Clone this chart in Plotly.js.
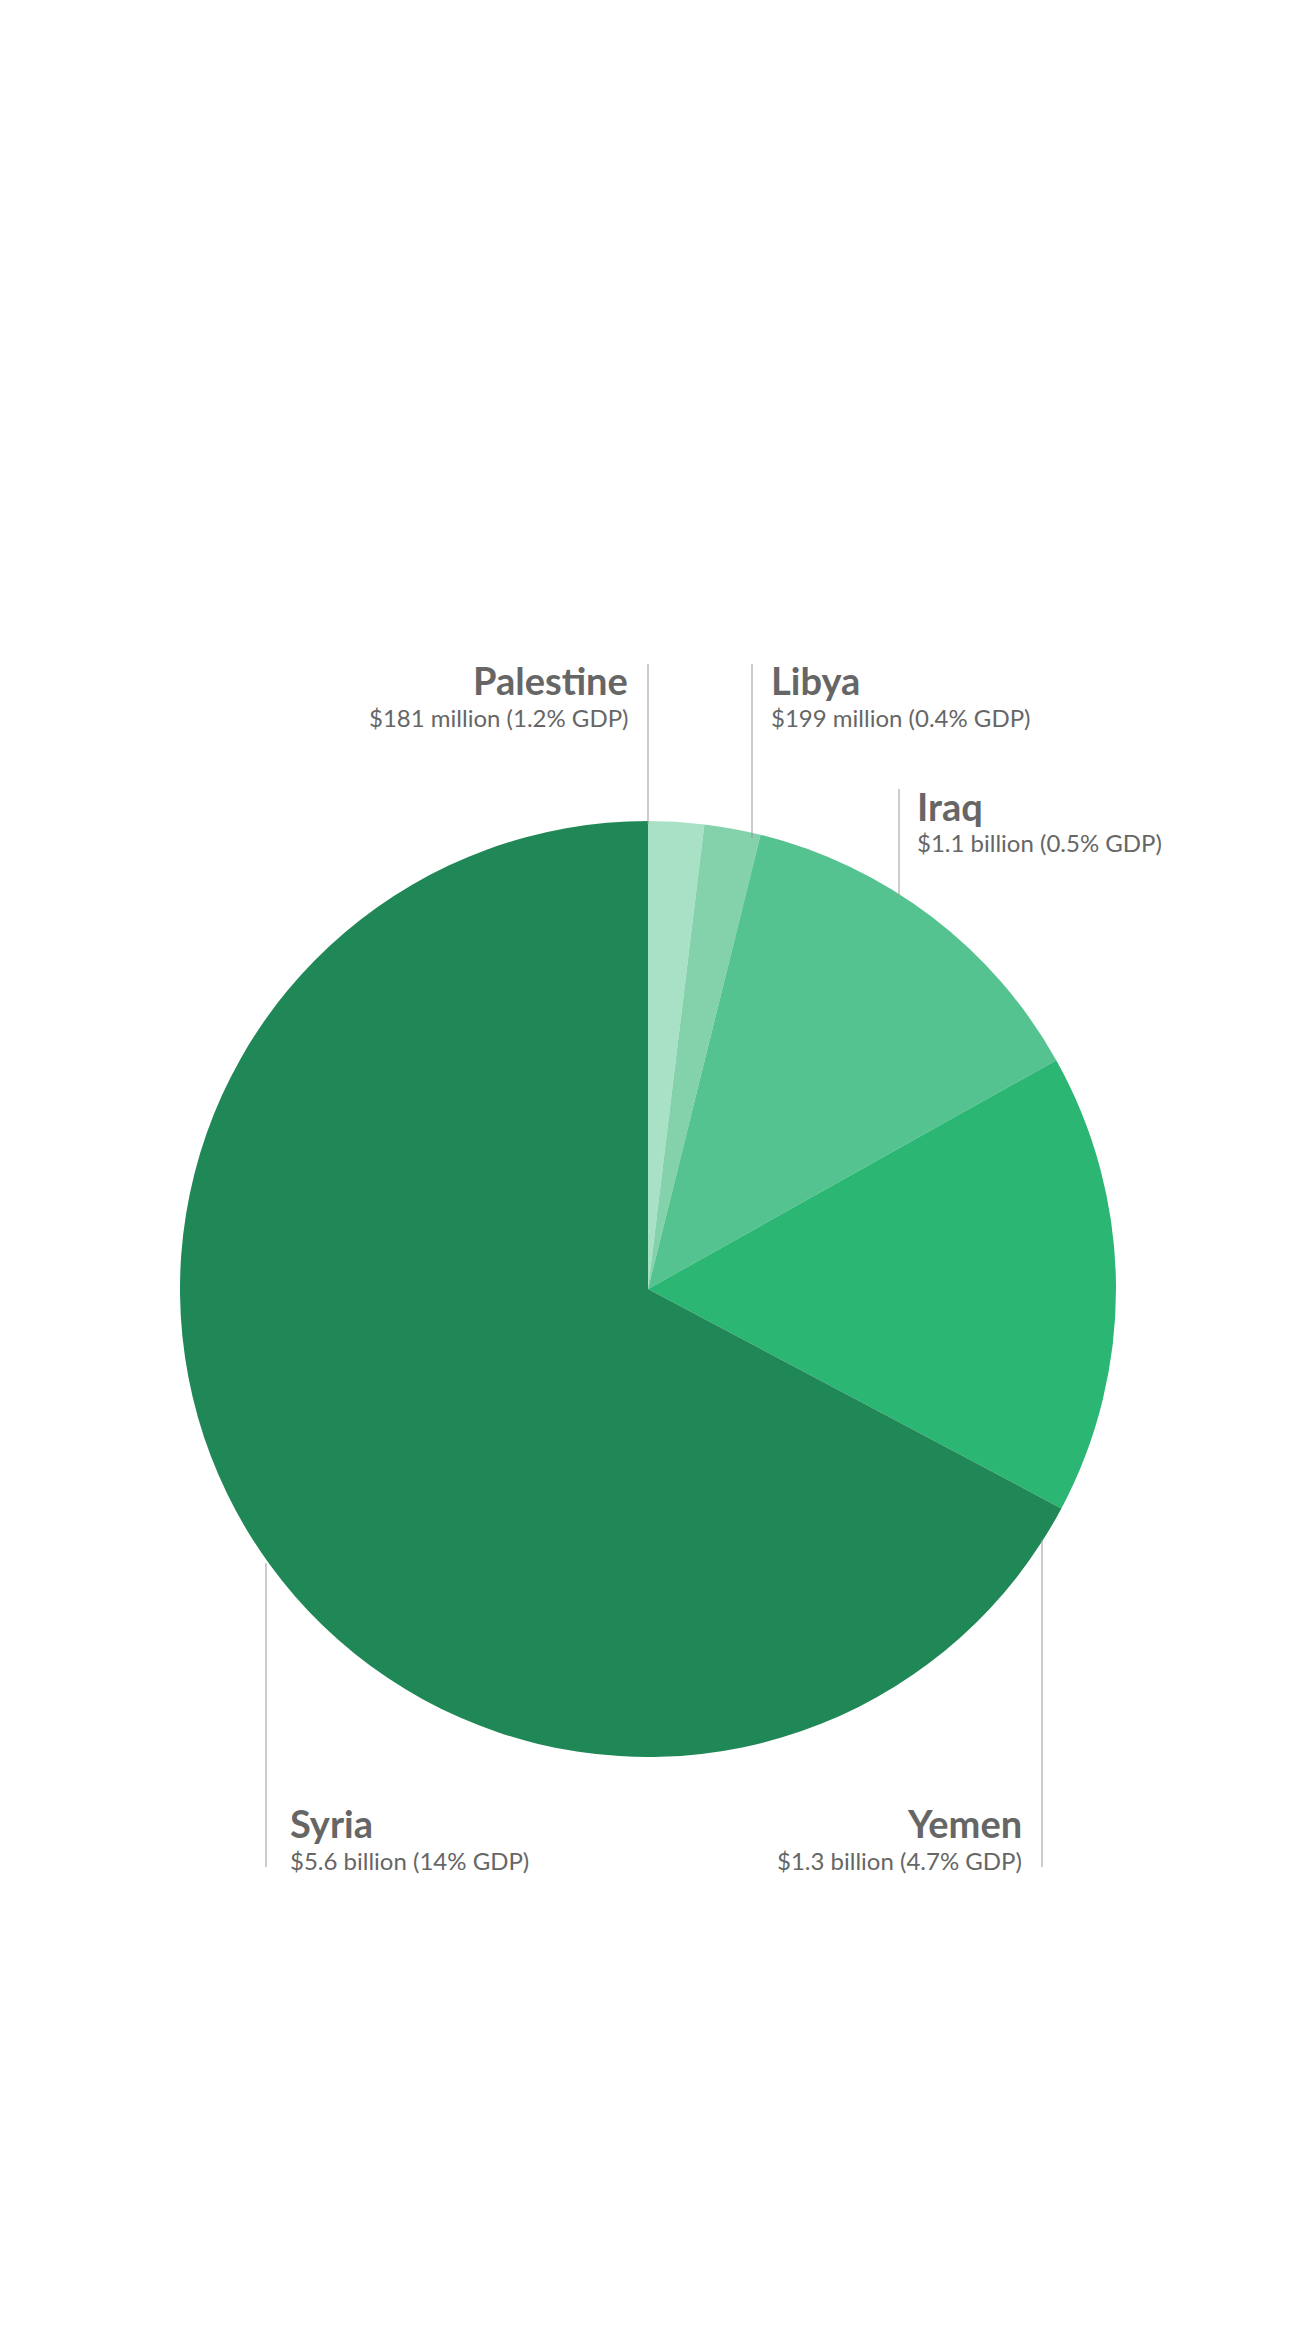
<!DOCTYPE html>
<html>
<head>
<meta charset="utf-8">
<script src="https://cdn.plot.ly/plotly-3.0.1.min.js"></script>
<style>html,body{margin:0;padding:0;background:#fff;}#chart{width:1313px;height:2334px;}</style>
</head>
<body>
<div id="chart"></div>
<script>
// Data (wedge sizes estimated from the drawn slices, billions USD)
const countries = ["Palestine", "Libya", "Iraq", "Yemen", "Syria"];
const amountsBillion = [0.16, 0.162, 1.083, 1.324, 5.6];
const amountLabels = ["$181 million", "$199 million", "$1.1 billion", "$1.3 billion", "$5.6 billion"];
const gdpShares = ["1.2", "0.4", "0.5", "4.7", "14"];
const colors = ["#a8e1c6", "#84d2ab", "#55c390", "#2bb673", "#208856"];

const W = 1313, H = 2334;
const px = x => x / W;
const py = y => 1 - y / H;

// pie geometry (pixels)
const cx = 648, cy = 1289, r = 468;

// label placement (pixels)
const labelPos = [
  {tx: 630, anchor: "right", ty: 680, sy: 717, lx: 648, ly0: 664, ly1: 824},
  {tx: 769, anchor: "left",  ty: 680, sy: 717, lx: 752, ly0: 664, ly1: 838},
  {tx: 915, anchor: "left",  ty: 806, sy: 843, lx: 899, ly0: 789, ly1: 896},
  {tx: 1024, anchor: "right", ty: 1823, sy: 1860, lx: 1042, ly0: 1540, ly1: 1867},
  {tx: 288, anchor: "left",  ty: 1823, sy: 1860, lx: 266, ly0: 1563, ly1: 1867}
];

const trace = {
  type: "pie",
  labels: countries,
  values: amountsBillion,
  sort: false,
  direction: "clockwise",
  rotation: 0,
  textinfo: "none",
  hoverinfo: "label",
  marker: {colors: colors, line: {width: 0}},
  showlegend: false,
  domain: {x: [px(cx - r), px(cx + r)], y: [py(cy + r), py(cy - r)]}
};

const annotations = [];
const shapes = [];
countries.forEach((c, i) => {
  const p = labelPos[i];
  annotations.push({
    xref: "paper", yref: "paper", x: px(p.tx), y: py(p.ty),
    xanchor: p.anchor, yanchor: "middle", showarrow: false,
    text: "<b>" + c + "</b>",
    font: {family: "Lato, 'Open Sans', sans-serif", size: 38, color: "#666666"}
  });
  annotations.push({
    xref: "paper", yref: "paper", x: px(p.tx), y: py(p.sy),
    xanchor: p.anchor, yanchor: "middle", showarrow: false,
    text: amountLabels[i] + " (" + gdpShares[i] + "% GDP)",
    font: {family: "Lato, 'Open Sans', sans-serif", size: 24, color: "#666666"}
  });
  shapes.push({
    type: "line", xref: "paper", yref: "paper",
    x0: px(p.lx), x1: px(p.lx), y0: py(p.ly0), y1: py(p.ly1),
    line: {color: "#999999", width: 1}
  });
});

const layout = {
  width: W, height: H,
  margin: {l: 0, r: 0, t: 0, b: 0},
  paper_bgcolor: "#ffffff",
  plot_bgcolor: "#ffffff",
  annotations: annotations,
  shapes: shapes
};

Plotly.newPlot("chart", [trace], layout, {displayModeBar: false, staticPlot: true});
</script>
</body>
</html>
